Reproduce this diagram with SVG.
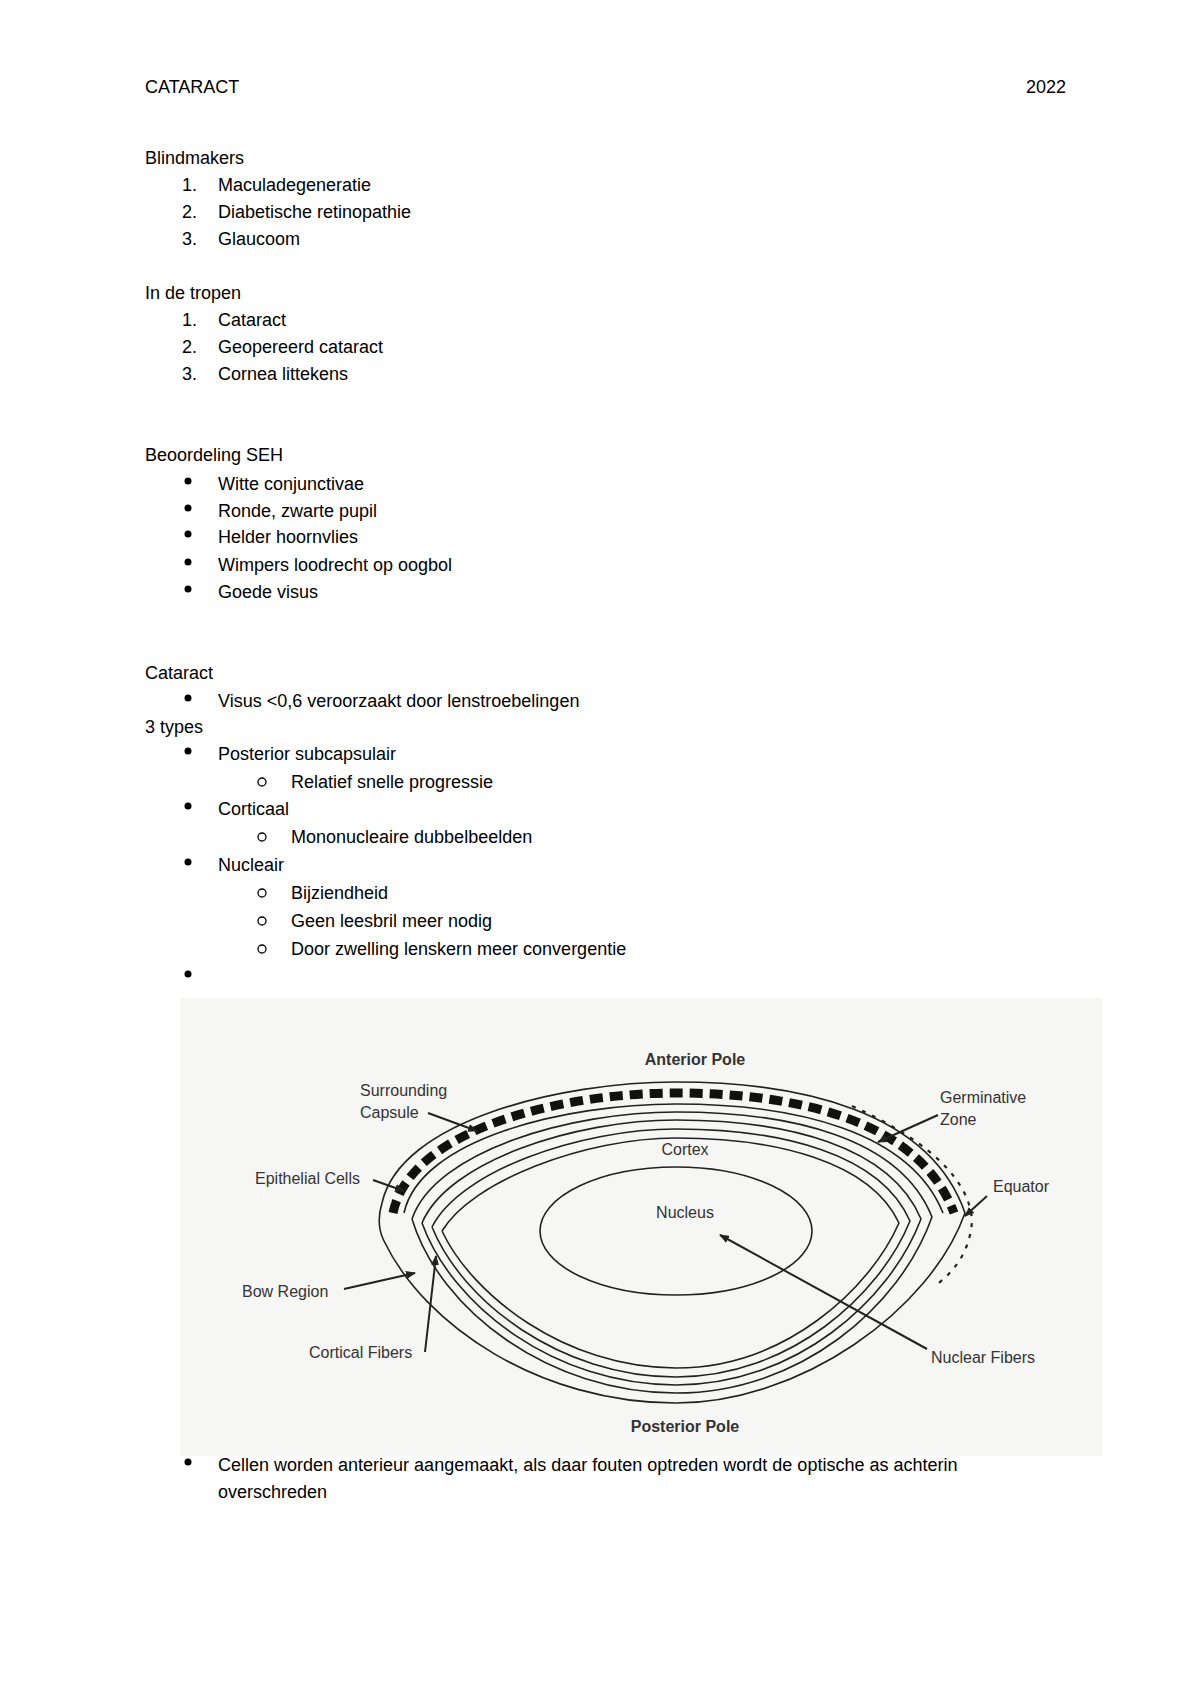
<svg xmlns="http://www.w3.org/2000/svg" width="1200" height="1698" viewBox="0 0 1200 1698">
<style>
.t{font-family:"Liberation Sans",Arial,sans-serif;font-size:18px;fill:#000}
.l{font-family:"Liberation Sans",Arial,sans-serif;font-size:16px;fill:#333}
.b{font-weight:bold}
.ln{fill:none;stroke:#222;stroke-width:1.6}
.ar{fill:none;stroke:#222;stroke-width:2;marker-end:url(#ah)}
</style>
<defs><marker id="ah" markerWidth="10" markerHeight="8" refX="9" refY="4" orient="auto" markerUnits="userSpaceOnUse"><path d="M0,0L10,4L0,8Z" fill="#222"/></marker></defs>
<rect width="1200" height="1698" fill="#fff"/>
<g id="text">
<text class="t" x="145" y="93">CATARACT</text><text class="t" x="1066" y="93" text-anchor="end">2022</text>
<text class="t" x="145" y="164">Blindmakers</text>
<text class="t" x="182" y="191">1.</text><text class="t" x="218" y="191">Maculadegeneratie</text>
<text class="t" x="182" y="218">2.</text><text class="t" x="218" y="218">Diabetische retinopathie</text>
<text class="t" x="182" y="245">3.</text><text class="t" x="218" y="245">Glaucoom</text>
<text class="t" x="145" y="299">In de tropen</text>
<text class="t" x="182" y="326">1.</text><text class="t" x="218" y="326">Cataract</text>
<text class="t" x="182" y="353">2.</text><text class="t" x="218" y="353">Geopereerd cataract</text>
<text class="t" x="182" y="380">3.</text><text class="t" x="218" y="380">Cornea littekens</text>
<text class="t" x="145" y="461">Beoordeling SEH</text>
<g fill="#000"><circle cx="188" cy="481" r="3.5"/><circle cx="188" cy="508" r="3.5"/><circle cx="188" cy="534" r="3.5"/><circle cx="188" cy="562" r="3.5"/><circle cx="188" cy="589" r="3.5"/><circle cx="188" cy="698" r="3.5"/><circle cx="188" cy="751" r="3.5"/><circle cx="188" cy="806" r="3.5"/><circle cx="188" cy="862" r="3.5"/><circle cx="188" cy="974" r="3.5"/><circle cx="188" cy="1462" r="3.5"/></g>
<text class="t" x="218" y="490">Witte conjunctivae</text>
<text class="t" x="218" y="517">Ronde, zwarte pupil</text>
<text class="t" x="218" y="543">Helder hoornvlies</text>
<text class="t" x="218" y="571">Wimpers loodrecht op oogbol</text>
<text class="t" x="218" y="598">Goede visus</text>
<text class="t" x="145" y="679">Cataract</text>
<text class="t" x="218" y="707">Visus &lt;0,6 veroorzaakt door lenstroebelingen</text>
<text class="t" x="145" y="733">3 types</text>
<text class="t" x="218" y="760">Posterior subcapsulair</text>
<text class="t" x="291" y="788">Relatief snelle progressie</text>
<text class="t" x="218" y="815">Corticaal</text>
<text class="t" x="291" y="843">Mononucleaire dubbelbeelden</text>
<text class="t" x="218" y="871">Nucleair</text>
<text class="t" x="291" y="899">Bijziendheid</text>
<text class="t" x="291" y="927">Geen leesbril meer nodig</text>
<text class="t" x="291" y="955">Door zwelling lenskern meer convergentie</text>
<g fill="none" stroke="#000" stroke-width="1.3"><circle cx="262" cy="782" r="4"/><circle cx="262" cy="837" r="4"/><circle cx="262" cy="893" r="4"/><circle cx="262" cy="921" r="4"/><circle cx="262" cy="949" r="4"/></g>
<text class="t" x="218" y="1471">Cellen worden anterieur aangemaakt, als daar fouten optreden wordt de optische as achterin</text>
<text class="t" x="218" y="1498">overschreden</text>
</g>
<g id="figure" transform="translate(0,-9)">
<rect x="180" y="1007" width="922" height="458" fill="#f6f6f4"/>
<path id="lens" class="ln" stroke-width="2" d="M382,1212 C400,1130 560,1091 676,1091 C800,1091 930,1120 965,1222 C930,1320 800,1412 676,1412 C540,1412 425,1335 384,1250 C378,1238 378,1225 382,1212 Z"/>
<path class="ln" d="M404,1222 C420,1148 565,1113 676,1113 C795,1113 910,1140 943,1222"/>
<path fill="none" stroke="#111" stroke-width="9" stroke-dasharray="13 7" d="M393,1222 C410,1138 562,1102 676,1102 C798,1102 920,1130 954,1222"/>
<path class="ln" d="M412,1228 C435,1160 570,1121 676,1121 C790,1121 900,1146 932,1226 C900,1316 800,1402 676,1402 C550,1402 440,1320 412,1228"/>
<path class="ln" d="M422,1232 C448,1170 575,1129 676,1129 C785,1129 890,1154 921,1228 C890,1310 795,1394 676,1394 C555,1394 452,1315 422,1232"/>
<path class="ln" d="M432,1236 C460,1180 580,1138 676,1138 C780,1138 880,1162 910,1230 C880,1304 790,1386 676,1386 C560,1386 462,1310 432,1236"/>
<path class="ln" d="M442,1240 C472,1190 585,1147 676,1147 C775,1147 870,1170 899,1232 C870,1298 785,1377 676,1377 C565,1377 472,1304 442,1240"/>
<ellipse class="ln" cx="676" cy="1240" rx="136" ry="64"/>
<path fill="none" stroke="#222" stroke-width="2.2" stroke-dasharray="4 7" d="M852,1115 C930,1150 970,1190 972,1230 C970,1260 955,1280 935,1295"/>
<text class="l b" x="695" y="1074" text-anchor="middle">Anterior Pole</text>
<text class="l b" x="685" y="1441" text-anchor="middle">Posterior Pole</text>
<text class="l" x="360" y="1105">Surrounding</text><text class="l" x="360" y="1127">Capsule</text>
<text class="l" x="940" y="1112">Germinative</text><text class="l" x="940" y="1134">Zone</text>
<text class="l" x="255" y="1193">Epithelial Cells</text>
<text class="l" x="993" y="1201">Equator</text>
<text class="l" x="685" y="1164" text-anchor="middle">Cortex</text>
<text class="l" x="685" y="1227" text-anchor="middle">Nucleus</text>
<text class="l" x="242" y="1306">Bow Region</text>
<text class="l" x="309" y="1367">Cortical Fibers</text>
<text class="l" x="931" y="1372">Nuclear Fibers</text>
</g>
<g id="connectors" transform="translate(0,-9)">
<path class="ar" d="M428,1122 L477,1140"/>
<path class="ar" d="M938,1124 L878,1151"/>
<path class="ar" d="M373,1189 L404,1200"/>
<path class="ar" d="M987,1205 L965,1225"/>
<path class="ar" d="M344,1298 L415,1282"/>
<path class="ar" d="M425,1361 L436,1265"/>
<path class="ar" d="M927,1358 L720,1244"/>
</g>
</svg>
